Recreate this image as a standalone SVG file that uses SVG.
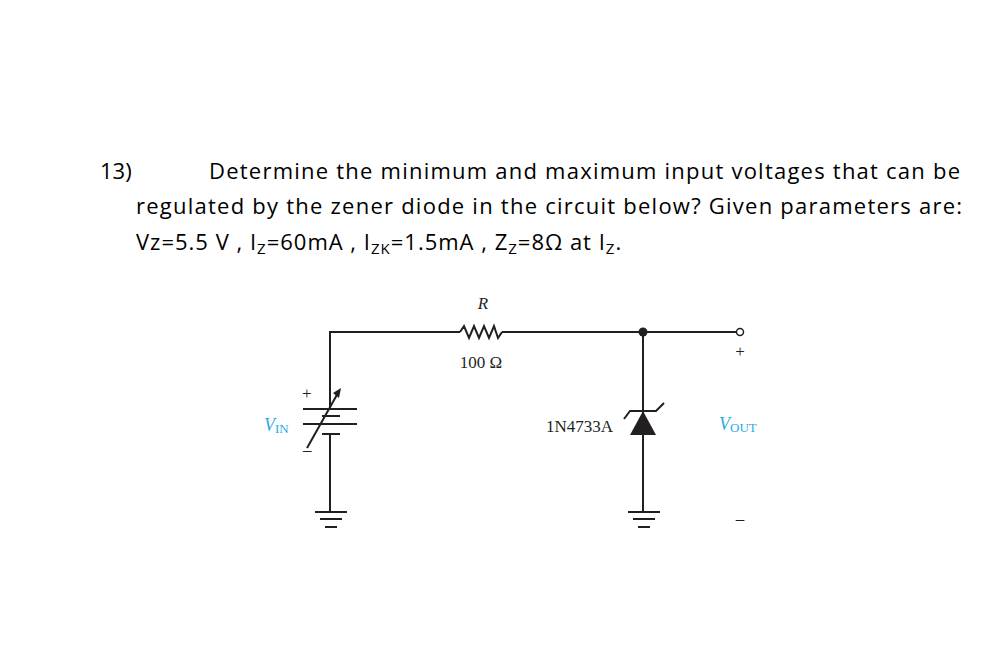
<svg xmlns="http://www.w3.org/2000/svg" width="994" height="657" viewBox="0 0 994 657">
<style>
.q{font-family:"Open Sans","Liberation Sans",sans-serif;font-size:22px;fill:#000}
.s{font-family:"Liberation Serif",serif;font-size:17px;fill:#231f20}
.b{font-family:"Liberation Serif",serif;font-size:18px;fill:#29aae1;font-style:italic}
.w{stroke:#231f20;stroke-width:2;fill:none}
</style>
<rect width="994" height="657" fill="#fff"/>
<g id="question">
<text class="q" x="100" y="179">13)</text>
<text class="q" x="209" y="179" textLength="751" lengthAdjust="spacing">Determine the minimum and maximum input voltages that can be</text>
<text class="q" x="136" y="214" textLength="826" lengthAdjust="spacing">regulated by the zener diode in the circuit below? Given parameters are:</text>
<text class="q" x="136" y="250" letter-spacing="1">Vz=5.5 V , I<tspan font-size="15" dy="4">Z</tspan><tspan dy="-4">=60mA , I</tspan><tspan font-size="15" dy="4">ZK</tspan><tspan dy="-4">=1.5mA , Z</tspan><tspan font-size="15" dy="4">Z</tspan><tspan dy="-4">=8Ω at I</tspan><tspan font-size="15" dy="4">Z</tspan><tspan dy="-4">.</tspan></text>
</g>
<g id="connectors">
<path class="w" d="M330 409V332H460M502 332H737M330 434V512M643 332V512"/>
</g>
<g id="source">
<path class="w" d="M303 409H357M322 416H340M303 424H357M322 434H340" stroke-width="3"/>
<path class="w" d="M307 448L338 393" stroke-width="1.2"/>
<path d="M341 388L333 393L339 398Z" fill="#231f20"/>
<text class="s" x="302" y="399" fill="#c0392b">+</text>
<text class="s" x="303" y="455">–</text>
<text class="b" x="264" y="431">V<tspan font-size="13" font-style="normal" dy="2">IN</tspan></text>
</g>
<g id="resistor">
<path class="w" d="M460 332L464 326L469 338L474 326L479 338L484 326L489 338L494 326L498 338L502 332"/>
<text class="s" x="483" y="309" font-style="italic" text-anchor="middle">R</text>
<text class="s" x="481" y="368" text-anchor="middle">100 Ω</text>
</g>
<g id="zener">
<path d="M630 435H656L643 411Z" fill="#231f20"/>
<path class="w" d="M624 419L630 411H656L664 403"/>
<circle cx="643" cy="332" r="4.5" fill="#231f20"/>
<text class="s" x="613" y="432" text-anchor="end">1N4733A</text>
</g>
<g id="output">
<circle cx="740" cy="332" r="3.5" fill="#fff" stroke="#231f20" stroke-width="1.5"/>
<text class="s" x="740" y="357" text-anchor="middle">+</text>
<text class="s" x="740" y="524" text-anchor="middle">–</text>
<text class="b" x="719" y="430">V<tspan font-size="13" font-style="normal" dy="2">OUT</tspan></text>
</g>
<g id="grounds" class="w" stroke-width="2.5">
<path d="M315 512H347M320 519H342M325 527H337"/>
<path d="M628 512H660M633 519H655M638 527H650"/>
</g>
</svg>
